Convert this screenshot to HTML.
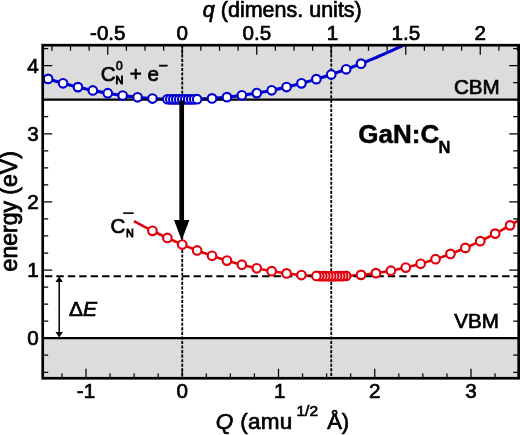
<!DOCTYPE html>
<html><head><meta charset="utf-8"><title>GaN:CN configuration coordinate diagram</title>
<style>html,body{margin:0;padding:0;background:#fff}body{width:520px;height:435px;overflow:hidden}</style></head>
<body>
<svg width="520" height="435" viewBox="0 0 520 435" style="display:block;font-family:'Liberation Sans', Arial, Helvetica, sans-serif">
<rect width="520" height="435" fill="#fff"/>
<rect x="42.7" y="45.2" width="476.00000000000006" height="54.47" fill="#dcdcdc"/>
<rect x="42.7" y="338.2" width="476.00000000000006" height="40.05" fill="#dcdcdc"/>
<defs><clipPath id="cp"><rect x="42.7" y="45.2" width="476.00000000000006" height="333.05"/></clipPath></defs>
<g clip-path="url(#cp)">
<path d="M33.25 73.97L36.35 75.03L39.46 76.08L42.56 77.10L45.67 78.10L48.77 79.07L51.88 80.03L54.98 80.96L58.08 81.86L61.19 82.74L64.29 83.60L67.40 84.44L70.50 85.25L73.60 86.04L76.71 86.81L79.81 87.56L82.92 88.28L86.02 88.98L89.12 89.65L92.23 90.31L95.33 90.94L98.44 91.55L101.54 92.13L104.65 92.69L107.75 93.23L110.85 93.75L113.96 94.24L117.06 94.72L120.17 95.17L123.27 95.59L126.38 96.00L129.48 96.38L132.58 96.74L135.69 97.08L138.79 97.39L141.90 97.69L145.00 97.96L148.10 98.20L151.21 98.43L154.31 98.63L157.42 98.81L160.52 98.97L163.62 99.11L166.73 99.23L169.83 99.32L172.94 99.39L176.04 99.44L179.15 99.47L182.25 99.47L185.35 99.45L188.46 99.41L191.56 99.35L194.67 99.27L197.77 99.17L200.88 99.04L203.98 98.89L207.08 98.72L210.19 98.53L213.29 98.32L216.40 98.08L219.50 97.83L222.60 97.55L225.71 97.25L228.81 96.93L231.92 96.59L235.02 96.22L238.12 95.84L241.23 95.43L244.33 95.00L247.44 94.55L250.54 94.08L253.65 93.59L256.75 93.08L259.85 92.54L262.96 91.99L266.06 91.41L269.17 90.81L272.27 90.19L275.38 89.55L278.48 88.89L281.58 88.21L284.69 87.51L287.79 86.78L290.90 86.04L294.00 85.27L297.10 84.48L300.21 83.68L303.31 82.85L306.42 82.00L309.52 81.13L312.62 80.24L315.73 79.32L318.83 78.39L321.94 77.44L325.04 76.47L328.15 75.47L331.25 74.46L334.35 73.42L337.46 72.36L340.56 71.29L343.67 70.19L346.77 69.07L349.88 67.94L352.98 66.78L356.08 65.60L359.19 64.40L362.29 63.18L365.40 61.94L368.50 60.68L371.60 59.40L374.71 58.10L377.81 56.78L380.92 55.44L384.02 54.08L387.12 52.70L390.23 51.30L393.33 49.88L396.44 48.44L399.54 46.98L402.65 45.50L405.75 44.00" stroke="#0000d0" stroke-width="3.1" fill="none"/>
<path d="M133.97 221.21L137.23 222.97L140.49 224.70L143.75 226.41L147.01 228.09L150.26 229.74L153.52 231.37L156.78 232.96L160.04 234.53L163.30 236.08L166.56 237.59L169.81 239.08L173.07 240.54L176.33 241.97L179.59 243.37L182.85 244.75L186.10 246.10L189.36 247.42L192.62 248.71L195.88 249.97L199.14 251.21L202.39 252.41L205.65 253.59L208.91 254.74L212.17 255.86L215.43 256.95L218.69 258.01L221.94 259.05L225.20 260.05L228.46 261.03L231.72 261.97L234.98 262.89L238.23 263.77L241.49 264.63L244.75 265.46L248.01 266.26L251.27 267.02L254.52 267.76L257.78 268.47L261.04 269.15L264.30 269.80L267.56 270.41L270.82 271.00L274.07 271.56L277.33 272.08L280.59 272.58L283.85 273.04L287.11 273.48L290.36 273.88L293.62 274.25L296.88 274.59L300.14 274.91L303.40 275.18L306.66 275.43L309.91 275.65L313.17 275.83L316.43 275.99L319.69 276.11L322.95 276.20L326.20 276.26L329.46 276.28L332.72 276.28L335.98 276.24L339.24 276.17L342.49 276.07L345.75 275.94L349.01 275.77L352.27 275.57L355.53 275.34L358.79 275.08L362.04 274.78L365.30 274.45L368.56 274.09L371.82 273.69L375.08 273.26L378.33 272.80L381.59 272.31L384.85 271.78L388.11 271.21L391.37 270.62L394.62 269.99L397.88 269.33L401.14 268.63L404.40 267.90L407.66 267.14L410.92 266.34L414.17 265.51L417.43 264.64L420.69 263.74L423.95 262.81L427.21 261.84L430.46 260.83L433.72 259.79L436.98 258.72L440.24 257.61L443.50 256.47L446.75 255.29L450.01 254.08L453.27 252.83L456.53 251.55L459.79 250.23L463.05 248.87L466.30 247.48L469.56 246.06L472.82 244.60L476.08 243.10L479.34 241.57L482.59 240.00L485.85 238.40L489.11 236.76L492.37 235.08L495.63 233.37L498.88 231.62L502.14 229.83L505.40 228.01L508.66 226.15L511.92 224.26L515.18 222.33L518.43 220.36L521.69 218.35L524.95 216.31" stroke="#e0000c" stroke-width="2.6" fill="none"/>
</g>
<path d="M42.7 372.27h5.5M518.7 372.27h-5.5M42.7 355.24h5.5M518.7 355.24h-5.5M42.7 338.20h9.5M518.7 338.20h-9.5M42.7 321.16h5.5M518.7 321.16h-5.5M42.7 304.12h5.5M518.7 304.12h-5.5M42.7 287.09h5.5M518.7 287.09h-5.5M42.7 270.05h9.5M518.7 270.05h-9.5M42.7 253.01h5.5M518.7 253.01h-5.5M42.7 235.97h5.5M518.7 235.97h-5.5M42.7 218.94h5.5M518.7 218.94h-5.5M42.7 201.90h9.5M518.7 201.90h-9.5M42.7 184.86h5.5M518.7 184.86h-5.5M42.7 167.82h5.5M518.7 167.82h-5.5M42.7 150.79h5.5M518.7 150.79h-5.5M42.7 133.75h9.5M518.7 133.75h-9.5M42.7 116.71h5.5M518.7 116.71h-5.5M42.7 99.67h5.5M518.7 99.67h-5.5M42.7 82.64h5.5M518.7 82.64h-5.5M42.7 65.60h9.5M518.7 65.60h-9.5M42.7 48.56h5.5M518.7 48.56h-5.5M61.94 378.25v-4.7M86.00 378.25v-9.5M110.06 378.25v-4.7M134.12 378.25v-4.7M158.19 378.25v-4.7M182.25 378.25v-9.5M206.31 378.25v-4.7M230.38 378.25v-4.7M254.44 378.25v-4.7M278.50 378.25v-9.5M302.56 378.25v-4.7M326.62 378.25v-4.7M350.69 378.25v-4.7M374.75 378.25v-9.5M398.81 378.25v-4.7M422.88 378.25v-4.7M446.94 378.25v-4.7M471.00 378.25v-9.5M495.06 378.25v-4.7M51.88 45.2v5.5M70.50 45.2v5.5M89.12 45.2v5.5M107.75 45.2v9.5M126.38 45.2v5.5M145.00 45.2v5.5M163.62 45.2v5.5M182.25 45.2v9.5M200.88 45.2v5.5M219.50 45.2v5.5M238.12 45.2v5.5M256.75 45.2v9.5M275.38 45.2v5.5M294.00 45.2v5.5M312.62 45.2v5.5M331.25 45.2v9.5M349.88 45.2v5.5M368.50 45.2v5.5M387.12 45.2v5.5M405.75 45.2v9.5M424.38 45.2v5.5M443.00 45.2v5.5M461.62 45.2v5.5M480.25 45.2v9.5M498.88 45.2v5.5M517.50 45.2v5.5" stroke="#000" stroke-width="1.25" fill="none"/>
<line x1="182.25" y1="45.2" x2="182.25" y2="378.25" stroke="#000" stroke-width="1.8" stroke-dasharray="3.1 1.45"/>
<line x1="331.25" y1="45.2" x2="331.25" y2="378.25" stroke="#000" stroke-width="1.8" stroke-dasharray="3.1 1.45"/>
<line x1="42.7" y1="276.18" x2="518.7" y2="276.18" stroke="#000" stroke-width="1.9" stroke-dasharray="7.4 4.03" stroke-dashoffset="9.2"/>
<line x1="42.7" y1="99.67" x2="518.7" y2="99.67" stroke="#000" stroke-width="2.2"/>
<line x1="42.7" y1="338.20" x2="518.7" y2="338.20" stroke="#000" stroke-width="2.2"/>
<g clip-path="url(#cp)">
<circle cx="48.15" cy="78.88" r="4.3" fill="#fff" stroke="#0000d0" stroke-width="2.15"/>
<circle cx="63.05" cy="83.26" r="4.3" fill="#fff" stroke="#0000d0" stroke-width="2.15"/>
<circle cx="77.95" cy="87.11" r="4.3" fill="#fff" stroke="#0000d0" stroke-width="2.15"/>
<circle cx="92.85" cy="90.43" r="4.3" fill="#fff" stroke="#0000d0" stroke-width="2.15"/>
<circle cx="107.75" cy="93.23" r="4.3" fill="#fff" stroke="#0000d0" stroke-width="2.15"/>
<circle cx="122.65" cy="95.51" r="4.3" fill="#fff" stroke="#0000d0" stroke-width="2.15"/>
<circle cx="137.55" cy="97.27" r="4.3" fill="#fff" stroke="#0000d0" stroke-width="2.15"/>
<circle cx="152.45" cy="98.51" r="4.3" fill="#fff" stroke="#0000d0" stroke-width="2.15"/>
<circle cx="167.35" cy="99.25" r="4.3" fill="#fff" stroke="#0000d0" stroke-width="2.15"/>
<circle cx="170.33" cy="99.33" r="4.3" fill="#fff" stroke="#0000d0" stroke-width="2.15"/>
<circle cx="173.31" cy="99.40" r="4.3" fill="#fff" stroke="#0000d0" stroke-width="2.15"/>
<circle cx="176.29" cy="99.44" r="4.3" fill="#fff" stroke="#0000d0" stroke-width="2.15"/>
<circle cx="179.27" cy="99.47" r="4.3" fill="#fff" stroke="#0000d0" stroke-width="2.15"/>
<circle cx="182.25" cy="99.47" r="4.3" fill="#fff" stroke="#0000d0" stroke-width="2.15"/>
<circle cx="185.23" cy="99.45" r="4.3" fill="#fff" stroke="#0000d0" stroke-width="2.15"/>
<circle cx="188.21" cy="99.42" r="4.3" fill="#fff" stroke="#0000d0" stroke-width="2.15"/>
<circle cx="191.19" cy="99.36" r="4.3" fill="#fff" stroke="#0000d0" stroke-width="2.15"/>
<circle cx="194.17" cy="99.29" r="4.3" fill="#fff" stroke="#0000d0" stroke-width="2.15"/>
<circle cx="197.15" cy="99.19" r="4.3" fill="#fff" stroke="#0000d0" stroke-width="2.15"/>
<circle cx="212.05" cy="98.41" r="4.3" fill="#fff" stroke="#0000d0" stroke-width="2.15"/>
<circle cx="226.95" cy="97.13" r="4.3" fill="#fff" stroke="#0000d0" stroke-width="2.15"/>
<circle cx="241.85" cy="95.35" r="4.3" fill="#fff" stroke="#0000d0" stroke-width="2.15"/>
<circle cx="256.75" cy="93.08" r="4.3" fill="#fff" stroke="#0000d0" stroke-width="2.15"/>
<circle cx="271.65" cy="90.32" r="4.3" fill="#fff" stroke="#0000d0" stroke-width="2.15"/>
<circle cx="286.55" cy="87.07" r="4.3" fill="#fff" stroke="#0000d0" stroke-width="2.15"/>
<circle cx="301.45" cy="83.35" r="4.3" fill="#fff" stroke="#0000d0" stroke-width="2.15"/>
<circle cx="316.35" cy="79.14" r="4.3" fill="#fff" stroke="#0000d0" stroke-width="2.15"/>
<circle cx="331.25" cy="74.46" r="4.3" fill="#fff" stroke="#0000d0" stroke-width="2.15"/>
<circle cx="346.15" cy="69.30" r="4.3" fill="#fff" stroke="#0000d0" stroke-width="2.15"/>
<circle cx="361.05" cy="63.67" r="4.3" fill="#fff" stroke="#0000d0" stroke-width="2.15"/>
<circle cx="510.05" cy="225.35" r="4.3" fill="#fff" stroke="#e0000c" stroke-width="2.15"/>
<circle cx="495.15" cy="233.62" r="4.3" fill="#fff" stroke="#e0000c" stroke-width="2.15"/>
<circle cx="480.25" cy="241.13" r="4.3" fill="#fff" stroke="#e0000c" stroke-width="2.15"/>
<circle cx="465.35" cy="247.89" r="4.3" fill="#fff" stroke="#e0000c" stroke-width="2.15"/>
<circle cx="450.45" cy="253.91" r="4.3" fill="#fff" stroke="#e0000c" stroke-width="2.15"/>
<circle cx="435.55" cy="259.20" r="4.3" fill="#fff" stroke="#e0000c" stroke-width="2.15"/>
<circle cx="420.65" cy="263.75" r="4.3" fill="#fff" stroke="#e0000c" stroke-width="2.15"/>
<circle cx="405.75" cy="267.59" r="4.3" fill="#fff" stroke="#e0000c" stroke-width="2.15"/>
<circle cx="390.85" cy="270.72" r="4.3" fill="#fff" stroke="#e0000c" stroke-width="2.15"/>
<circle cx="375.95" cy="273.14" r="4.3" fill="#fff" stroke="#e0000c" stroke-width="2.15"/>
<circle cx="361.05" cy="274.87" r="4.3" fill="#fff" stroke="#e0000c" stroke-width="2.15"/>
<circle cx="346.15" cy="275.92" r="4.3" fill="#fff" stroke="#e0000c" stroke-width="2.15"/>
<circle cx="343.17" cy="276.05" r="4.3" fill="#fff" stroke="#e0000c" stroke-width="2.15"/>
<circle cx="340.19" cy="276.15" r="4.3" fill="#fff" stroke="#e0000c" stroke-width="2.15"/>
<circle cx="337.21" cy="276.22" r="4.3" fill="#fff" stroke="#e0000c" stroke-width="2.15"/>
<circle cx="334.23" cy="276.27" r="4.3" fill="#fff" stroke="#e0000c" stroke-width="2.15"/>
<circle cx="331.25" cy="276.29" r="4.3" fill="#fff" stroke="#e0000c" stroke-width="2.15"/>
<circle cx="328.27" cy="276.28" r="4.3" fill="#fff" stroke="#e0000c" stroke-width="2.15"/>
<circle cx="325.29" cy="276.24" r="4.3" fill="#fff" stroke="#e0000c" stroke-width="2.15"/>
<circle cx="322.31" cy="276.18" r="4.3" fill="#fff" stroke="#e0000c" stroke-width="2.15"/>
<circle cx="319.33" cy="276.10" r="4.3" fill="#fff" stroke="#e0000c" stroke-width="2.15"/>
<circle cx="316.35" cy="275.98" r="4.3" fill="#fff" stroke="#e0000c" stroke-width="2.15"/>
<circle cx="301.45" cy="275.02" r="4.3" fill="#fff" stroke="#e0000c" stroke-width="2.15"/>
<circle cx="286.55" cy="273.41" r="4.3" fill="#fff" stroke="#e0000c" stroke-width="2.15"/>
<circle cx="271.65" cy="271.15" r="4.3" fill="#fff" stroke="#e0000c" stroke-width="2.15"/>
<circle cx="256.75" cy="268.25" r="4.3" fill="#fff" stroke="#e0000c" stroke-width="2.15"/>
<circle cx="241.85" cy="264.72" r="4.3" fill="#fff" stroke="#e0000c" stroke-width="2.15"/>
<circle cx="226.95" cy="260.58" r="4.3" fill="#fff" stroke="#e0000c" stroke-width="2.15"/>
<circle cx="212.05" cy="255.82" r="4.3" fill="#fff" stroke="#e0000c" stroke-width="2.15"/>
<circle cx="197.15" cy="250.46" r="4.3" fill="#fff" stroke="#e0000c" stroke-width="2.15"/>
<circle cx="182.25" cy="244.50" r="4.3" fill="#fff" stroke="#e0000c" stroke-width="2.15"/>
<circle cx="167.35" cy="237.96" r="4.3" fill="#fff" stroke="#e0000c" stroke-width="2.15"/>
<circle cx="152.45" cy="230.83" r="4.3" fill="#fff" stroke="#e0000c" stroke-width="2.15"/>
<line x1="181.7" y1="100.4" x2="181.7" y2="222" stroke="#000" stroke-width="4.7"/>
<path d="M174.0 220 L189.39999999999998 220 L181.7 240.6 Z" fill="#000"/>
</g>
<rect x="42.7" y="45.2" width="476.00000000000006" height="333.05" fill="none" stroke="#000" stroke-width="2.7"/>
<line x1="59.2" y1="279.18" x2="59.2" y2="335.20" stroke="#000" stroke-width="1.5"/>
<path d="M59.2 276.38l-3.7 5.6h7.4zM59.2 337.60l-3.7 -5.6h7.4z" fill="#000"/>
<text x="107.8" y="39.6" font-size="20.6" text-anchor="middle" stroke="#000" stroke-width="0.7" >-0.5</text>
<text x="182.2" y="39.6" font-size="20.6" text-anchor="middle" stroke="#000" stroke-width="0.7" >0</text>
<text x="256.8" y="39.6" font-size="20.6" text-anchor="middle" stroke="#000" stroke-width="0.7" >0.5</text>
<text x="332.4" y="39.6" font-size="20.6" text-anchor="middle" stroke="#000" stroke-width="0.7" >1</text>
<text x="405.8" y="39.6" font-size="20.6" text-anchor="middle" stroke="#000" stroke-width="0.7" >1.5</text>
<text x="480.2" y="39.6" font-size="20.6" text-anchor="middle" stroke="#000" stroke-width="0.7" >2</text>
<text x="86.0" y="397.6" font-size="20.6" text-anchor="middle" stroke="#000" stroke-width="0.7" >-1</text>
<text x="182.2" y="397.6" font-size="20.6" text-anchor="middle" stroke="#000" stroke-width="0.7" >0</text>
<text x="279.7" y="397.6" font-size="20.6" text-anchor="middle" stroke="#000" stroke-width="0.7" >1</text>
<text x="374.8" y="397.6" font-size="20.6" text-anchor="middle" stroke="#000" stroke-width="0.7" >2</text>
<text x="471.0" y="397.6" font-size="20.6" text-anchor="middle" stroke="#000" stroke-width="0.7" >3</text>
<text x="38.6" y="345.1" font-size="20.6" text-anchor="end" stroke="#000" stroke-width="0.7" >0</text>
<text x="38.6" y="276.9" font-size="20.6" text-anchor="end" stroke="#000" stroke-width="0.7" >1</text>
<text x="38.6" y="208.8" font-size="20.6" text-anchor="end" stroke="#000" stroke-width="0.7" >2</text>
<text x="38.6" y="140.6" font-size="20.6" text-anchor="end" stroke="#000" stroke-width="0.7" >3</text>
<text x="38.6" y="72.5" font-size="20.6" text-anchor="end" stroke="#000" stroke-width="0.7" >4</text>
<text x="282.3" y="17" font-size="21.5" text-anchor="middle" stroke="#000" stroke-width="0.7" ><tspan font-style="italic">q</tspan> (dimens. units)</text>
<text x="215.8" y="429" font-size="22.5" text-anchor="start" stroke="#000" stroke-width="0.7" letter-spacing="0.3"><tspan font-style="italic">Q</tspan> (amu</text>
<text x="296.5" y="416.3" font-size="15.5" text-anchor="start" stroke="#000" stroke-width="0.7" >1/2</text>
<text x="327.2" y="429" font-size="22" text-anchor="start" stroke="#000" stroke-width="0.7" >Å)</text>
<text transform="translate(16.8,211.3) rotate(-90)" font-size="23" stroke="#000" stroke-width="0.8" text-anchor="middle">energy (eV)</text>
<text x="454" y="93.5" font-size="20.6" text-anchor="start" stroke="#000" stroke-width="0.7" >CBM</text>
<text x="454.3" y="328.3" font-size="20.6" text-anchor="start" stroke="#000" stroke-width="0.7" >VBM</text>
<text x="358.3" y="143.3" font-size="26" text-anchor="start" stroke="#000" stroke-width="0.5" font-weight="bold">GaN:C</text>
<text x="438.6" y="153" font-size="16.5" text-anchor="start" stroke="#000" stroke-width="0.4" font-weight="bold">N</text>
<text x="100.8" y="80.5" font-size="20.6" text-anchor="start" stroke="#000" stroke-width="0.7" >C</text>
<text x="116.0" y="69.8" font-size="12" text-anchor="start" stroke="#000" stroke-width="0.7" >0</text>
<text x="115.6" y="83.9" font-size="10.8" text-anchor="start" stroke="#000" stroke-width="0.9" >N</text>
<text x="129.8" y="80.5" font-size="20.6" text-anchor="start" stroke="#000" stroke-width="0.7" >+ e</text>
<text x="158.6" y="70.8" font-size="16" text-anchor="start" stroke="#000" stroke-width="0.7" >−</text>
<text x="110.6" y="233" font-size="20.6" text-anchor="start" stroke="#000" stroke-width="0.7" >C</text>
<text x="126.0" y="237.0" font-size="10.8" text-anchor="start" stroke="#000" stroke-width="0.9" >N</text>
<text x="122.2" y="220.2" font-size="21" text-anchor="start" stroke="#000" stroke-width="0.2" >−</text>
<text x="69" y="315.5" font-size="21" text-anchor="start" stroke="#000" stroke-width="0.7" >Δ<tspan font-style="italic">E</tspan></text>
</svg>
</body></html>
